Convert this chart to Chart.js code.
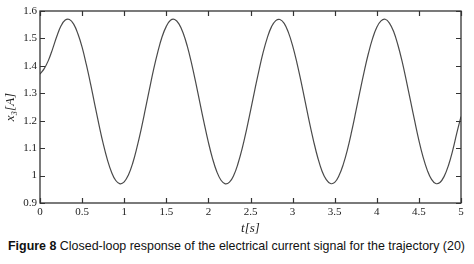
<!DOCTYPE html>
<html>
<head>
<meta charset="utf-8">
<script src="https://cdn.jsdelivr.net/npm/chart.js@4"></script>
<style>
  body { margin: 0; background: #fff; }
  #wrap { position: relative; width: 474px; height: 264px; overflow: hidden; }
  #chart { position: absolute; left: 0; top: 0; }
  #caption {
    position: absolute; left: 8px; top: 238px;
    font-family: "Liberation Sans", Arial, sans-serif; font-size: 13px;
    color: #111; white-space: nowrap; transform-origin: 0 0;
  }
</style>
</head>
<body>
<div id="wrap">
  <canvas id="chart" width="474" height="236"></canvas>
  <div id="caption"><b>Figure 8</b> Closed-loop response of the electrical current signal for the trajectory (20)</div>
</div>
<script>
// time samples [s]
const timeS = [
  0.00, 0.05, 0.10, 0.15, 0.20, 0.25, 0.30, 0.35, 0.40, 0.45,
  0.50, 0.55, 0.60, 0.65, 0.70, 0.75, 0.80, 0.85, 0.90, 0.95,
  1.00, 1.05, 1.10, 1.15, 1.20, 1.25, 1.30, 1.35, 1.40, 1.45,
  1.50, 1.55, 1.60, 1.65, 1.70, 1.75, 1.80, 1.85, 1.90, 1.95,
  2.00, 2.05, 2.10, 2.15, 2.20, 2.25, 2.30, 2.35, 2.40, 2.45,
  2.50, 2.55, 2.60, 2.65, 2.70, 2.75, 2.80, 2.85, 2.90, 2.95,
  3.00, 3.05, 3.10, 3.15, 3.20, 3.25, 3.30, 3.35, 3.40, 3.45,
  3.50, 3.55, 3.60, 3.65, 3.70, 3.75, 3.80, 3.85, 3.90, 3.95,
  4.00, 4.05, 4.10, 4.15, 4.20, 4.25, 4.30, 4.35, 4.40, 4.45,
  4.50, 4.55, 4.60, 4.65, 4.70, 4.75, 4.80, 4.85, 4.90, 4.95,
  5.00
];

// current x3 [A]
const currentA = [
  1.370, 1.390, 1.420, 1.462, 1.508, 1.546, 1.567, 1.569, 1.552, 1.517,
  1.468, 1.405, 1.335, 1.260, 1.186, 1.117, 1.058, 1.012, 0.982, 0.970,
  0.977, 1.002, 1.044, 1.101, 1.167, 1.240, 1.315, 1.388, 1.452, 1.506,
  1.544, 1.566, 1.569, 1.553, 1.520, 1.471, 1.409, 1.339, 1.264, 1.190,
  1.121, 1.061, 1.014, 0.983, 0.970, 0.976, 1.000, 1.042, 1.097, 1.163,
  1.236, 1.311, 1.383, 1.449, 1.503, 1.543, 1.565, 1.569, 1.555, 1.522,
  1.474, 1.413, 1.343, 1.269, 1.194, 1.125, 1.064, 1.016, 0.985, 0.971,
  0.975, 0.999, 1.039, 1.093, 1.159, 1.232, 1.307, 1.379, 1.445, 1.500,
  1.541, 1.564, 1.570, 1.556, 1.525, 1.477, 1.417, 1.347, 1.273, 1.199,
  1.128, 1.067, 1.019, 0.986, 0.971, 0.975, 0.997, 1.036, 1.090, 1.155,
  1.215
];

const xTickStep = 0.5;
const yTickStep = 0.1;

const AXIS_COLOR = "#333";
const TICK_LEN = 5;

// MATLAB-style box with inward ticks on all four sides
const boxTicks = {
  id: "boxTicks",
  afterDraw(chart) {
    const { ctx, chartArea: a } = chart;
    const xs = chart.scales.x;
    const ys = chart.scales.y;
    ctx.save();
    ctx.strokeStyle = AXIS_COLOR;
    ctx.lineWidth = 1.3;
    ctx.strokeRect(a.left, a.top, a.right - a.left, a.bottom - a.top);
    ctx.lineWidth = 1.2;
    ctx.beginPath();
    xs.ticks.forEach((t) => {
      const px = Math.round(xs.getPixelForValue(t.value)) + 0.5;
      ctx.moveTo(px, a.bottom);
      ctx.lineTo(px, a.bottom - TICK_LEN);
      ctx.moveTo(px, a.top);
      ctx.lineTo(px, a.top + TICK_LEN);
    });
    ys.ticks.forEach((t) => {
      const py = Math.round(ys.getPixelForValue(t.value)) + 0.5;
      ctx.moveTo(a.left, py);
      ctx.lineTo(a.left + TICK_LEN, py);
      ctx.moveTo(a.right, py);
      ctx.lineTo(a.right - TICK_LEN, py);
    });
    ctx.stroke();
    ctx.restore();
  },
};

// MATLAB prints 1 rather than 1.0
const plainNumber = (v) => String(Number(v.toFixed(2)));

const tickFont = { family: "'Liberation Serif', 'Times New Roman', serif", size: 11 };
const titleFont = { family: "'Liberation Serif', 'Times New Roman', serif", size: 13, style: "italic" };

new Chart(document.getElementById("chart"), {
  type: "line",
  data: {
    datasets: [
      {
        data: timeS.map((t, i) => ({ x: t, y: currentA[i] })),
        borderColor: "#4a4a4a",
        borderWidth: 1.2,
        pointRadius: 0,
        tension: 0.4,
        fill: false,
      },
    ],
  },
  options: {
    responsive: false,
    animation: false,
    layout: { padding: { top: 11, right: 13, left: 0, bottom: 0 } },
    plugins: { legend: { display: false }, tooltip: { enabled: false } },
    scales: {
      x: {
        type: "linear",
        min: 0,
        max: 5,
        grid: { display: false, drawTicks: false },
        border: { display: false },
        ticks: { stepSize: xTickStep, padding: 3, font: tickFont, color: "#222", maxRotation: 0, callback: plainNumber },
        title: { display: true, text: "t[s]", font: titleFont, color: "#222", padding: { top: 0, bottom: 0 } },
        afterFit(scale) { scale.height = 33; },
      },
      y: {
        min: 0.9,
        max: 1.6,
        grid: { display: false, drawTicks: false },
        border: { display: false },
        ticks: { stepSize: yTickStep, padding: 3, font: tickFont, color: "#222", callback: plainNumber },
        title: { display: true, text: "x₃[A]", font: titleFont, color: "#222", padding: { top: 3, bottom: 0 } },
        afterFit(scale) { scale.width = 40; },
      },
    },
  },
  plugins: [boxTicks],
});

// squeeze caption to the narrow width used in the original
const cap = document.getElementById("caption");
const capW = cap.getBoundingClientRect().width;
cap.style.transform = "scaleX(" + (457 / capW) + ")";
</script>
</body>
</html>
